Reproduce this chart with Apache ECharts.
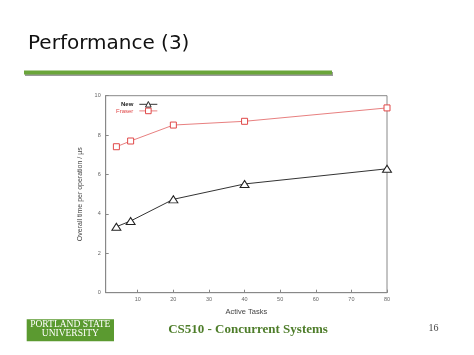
<!DOCTYPE html>
<html><head><meta charset="utf-8">
<script src="https://cdn.jsdelivr.net/npm/echarts@6/dist/echarts.min.js"></script>
<style>html,body{margin:0;padding:0;background:#fff}#c{width:474px;height:355px}</style>
</head><body><div id="c"></div>
<script>
const tasks = [4, 8, 20, 40, 80];
const newTimes = [3.35, 3.64, 4.74, 5.52, 6.29];
const fraserTimes = [7.41, 7.70, 8.51, 8.70, 9.38];
const xTickLabels = [10, 20, 30, 40, 50, 60, 70, 80];
const yTickLabels = [0, 2, 4, 6, 8, 10];

const chart = echarts.init(document.getElementById('c'));
const pair = (xs, ys) => xs.map((x, i) => [x, ys[i]]);
chart.setOption({
  animation: false,
  backgroundColor: '#fff',
  grid: { left: 105.7, top: 95.7, width: 281.3, height: 197, show: true, borderColor: '#888', borderWidth: 1, containLabel: false },
  legend: {
    left: 111, top: 96, orient: 'vertical', align: 'right', itemGap: 0,
    itemWidth: 18, itemHeight: 7,
    lineStyle: { width: 1 },
    textStyle: { fontSize: 6, fontFamily: 'Liberation Sans', fontWeight: 'bold', padding: [0, 1, 0, 0] },
    data: [
      { name: 'New', textStyle: { color: '#222' }, itemStyle: { color: '#fff', borderColor: '#222', borderWidth: 1 } },
      { name: 'Fraser', textStyle: { color: '#e04848', fontWeight: 'normal' }, itemStyle: { color: '#fff', borderColor: '#e04848', borderWidth: 1 } }
    ]
  },
  xAxis: {
    type: 'value', min: 1, max: 80,
    name: 'Active Tasks', nameLocation: 'middle', nameGap: 14,
    nameTextStyle: { fontSize: 7.5, color: '#444', fontFamily: 'Liberation Sans' },
    axisLine: { show: true, lineStyle: { color: '#888' } },
    axisTick: { show: true, inside: true, length: 3, lineStyle: { color: '#888' }, customValues: xTickLabels },
    axisLabel: { fontSize: 5.5, color: '#666', margin: 4, fontFamily: 'Liberation Sans', customValues: xTickLabels },
    splitLine: { show: false }
  },
  yAxis: {
    type: 'value', min: 0, max: 10, interval: 2,
    name: 'Overall time per operation / µs', nameLocation: 'middle', nameGap: 15, nameRotate: 90,
    nameTextStyle: { fontSize: 7, color: '#444', fontFamily: 'Liberation Sans' },
    axisLine: { show: true, lineStyle: { color: '#888' } },
    axisTick: { show: true, inside: true, length: 3, lineStyle: { color: '#888' } },
    axisLabel: { fontSize: 5.5, color: '#666', margin: 5, fontFamily: 'Liberation Sans' },
    splitLine: { show: false }
  },
  series: [
    {
      name: 'New', type: 'line', data: pair(tasks, newTimes),
      symbol: 'triangle', symbolSize: [9, 7], showAllSymbol: true,
      lineStyle: { color: '#333', width: 1 },
      itemStyle: { color: '#fff', borderColor: '#222', borderWidth: 1 }
    },
    {
      name: 'Fraser', type: 'line', data: pair(tasks, fraserTimes),
      symbol: 'rect', symbolSize: 6, showAllSymbol: true,
      lineStyle: { color: '#e88080', width: 1 },
      itemStyle: { color: '#fff', borderColor: '#e04848', borderWidth: 1 }
    }
  ],
  graphic: [
    { type: 'text', left: 28, top: 34, style: { text: 'Performance (3)', fontSize: 20, fontFamily: 'DejaVu Sans', fill: '#111' } },
    { type: 'rect', shape: { x: 25, y: 72, width: 308, height: 4 }, style: { fill: '#9a9a9a' } },
    { type: 'rect', shape: { x: 24, y: 70.5, width: 308, height: 4 }, style: { fill: '#6aa53a' } },
    { type: 'rect', shape: { x: 26.7, y: 319.3, width: 87.3, height: 22 }, style: { fill: '#5b9a30' } },
    { type: 'text', x: 70.3, y: 324, style: { text: 'PORTLAND STATE', fontSize: 9.5, fontFamily: 'Liberation Serif', fill: '#fff', align: 'center', verticalAlign: 'middle' } },
    { type: 'text', x: 70.3, y: 333.5, style: { text: 'UNIVERSITY', fontSize: 9.5, fontFamily: 'Liberation Serif', fill: '#fff', align: 'center', verticalAlign: 'middle' } },
    { type: 'text', x: 248, y: 330, style: { text: 'CS510 - Concurrent Systems', fontSize: 13, fontWeight: 'bold', fontFamily: 'Liberation Serif', fill: '#4e7d2a', align: 'center', verticalAlign: 'middle' } },
    { type: 'text', x: 433.5, y: 328, style: { text: '16', fontSize: 10, fontFamily: 'Liberation Serif', fill: '#444', align: 'center', verticalAlign: 'middle' } }
  ]
});
</script></body></html>
